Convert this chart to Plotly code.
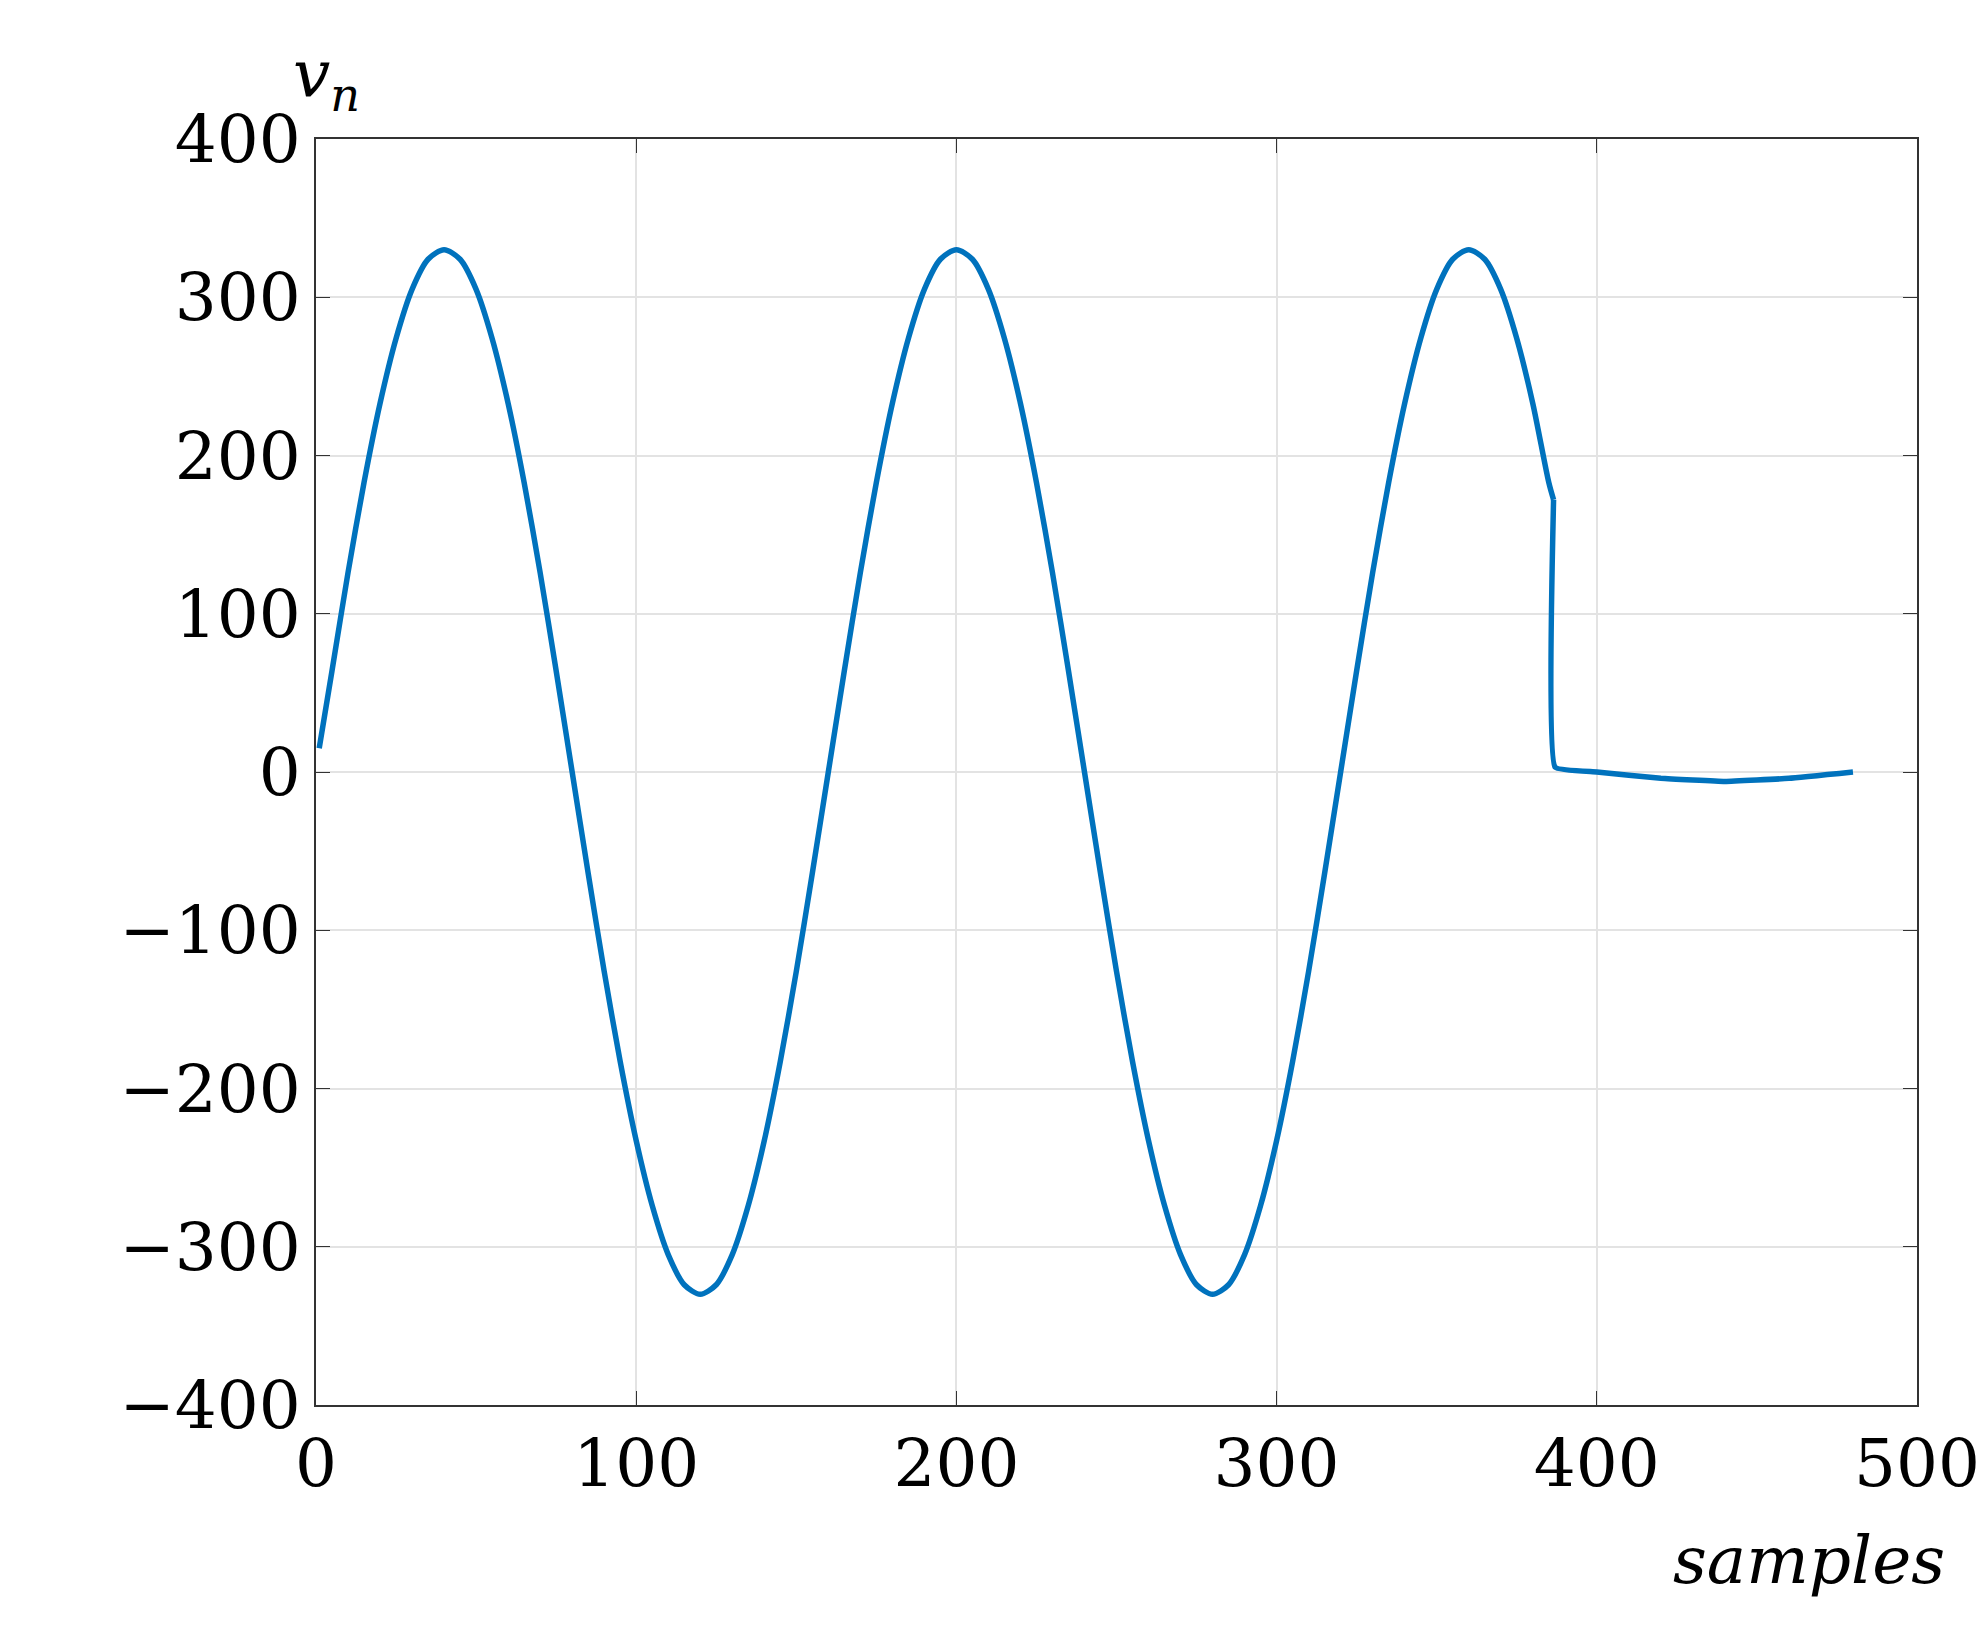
import plotly.graph_objects as go

x_samples = [1, 5, 10, 15, 20, 25, 30, 35, 40, 45, 50, 55, 60, 65, 70, 75,
             80, 85, 90, 95, 100, 105, 110, 115, 120, 125, 130, 135, 140, 145, 150, 155,
             160, 165, 170, 175, 180, 185, 190, 195, 200, 205, 210, 215, 220, 225, 230, 235,
             240, 245, 250, 255, 260, 265, 270, 275, 280, 285, 290, 295, 300, 305, 310, 315,
             320, 325, 330, 335, 340, 345, 350, 355, 360, 365, 370, 375, 380, 385, 386.5]
v_n = [15, 64, 126, 183, 233, 274, 305, 324, 330, 324, 305, 274, 233, 183, 126, 64,
       0, -64, -126, -183, -233, -274, -305, -324, -330, -324, -305, -274, -233, -183, -126, -64,
       0, 64, 126, 183, 233, 274, 305, 324, 330, 324, 305, 274, 233, 183, 126, 64,
       0, -64, -126, -183, -233, -274, -305, -324, -330, -324, -305, -274, -233, -183, -126, -64,
       0, 64, 126, 183, 233, 274, 305, 324, 330, 324, 305, 274, 233, 183, 172]
x_after = [386.5, 387, 400, 420, 440, 460, 480]
v_after = [172, 3, 0, -4, -6, -4, 0]

x_ticks = [0, 100, 200, 300, 400, 500]
y_ticks = [-400, -300, -200, -100, 0, 100, 200, 300, 400]
y_labels = ["\u2212400", "\u2212300", "\u2212200", "\u2212100", "0", "100", "200", "300", "400"]

fig = go.Figure()
fig.add_trace(go.Scatter(x=x_samples, y=v_n, mode="lines",
                         line=dict(color="#0072BD", width=5.5, shape="spline", smoothing=0.8)))
fig.add_trace(go.Scatter(x=x_after, y=v_after, mode="lines",
                         line=dict(color="#0072BD", width=5.5, shape="spline", smoothing=0.3)))
font = dict(family="DejaVu Serif", size=66, color="black")
axis = dict(showline=True, linecolor="#333", linewidth=2, mirror="ticks", ticks="inside",
            ticklen=14, tickcolor="#333", showgrid=True, gridcolor="#e3e3e3", gridwidth=2,
            zeroline=False, tickfont=font)
fig.update_layout(width=1985, height=1633, plot_bgcolor="white", paper_bgcolor="white",
                  margin=dict(l=308, r=76, t=131, b=236), showlegend=False,
                  xaxis=dict(range=[0, 500], tickvals=x_ticks, **axis),
                  yaxis=dict(range=[-400, 400], tickvals=y_ticks, ticktext=y_labels, **axis),
                  annotations=[
                      dict(text="<i>v</i><sub><i>n</i></sub>", x=0, y=1, xref="paper", yref="paper",
                           xanchor="left", yanchor="bottom", xshift=-25, yshift=15,
                           showarrow=False, font=font),
                      dict(text="<i>samples</i>", x=1, y=0, xref="paper", yref="paper",
                           xanchor="right", yanchor="top", xshift=30, yshift=-115,
                           showarrow=False, font=font)])
fig.write_html("out.html")
